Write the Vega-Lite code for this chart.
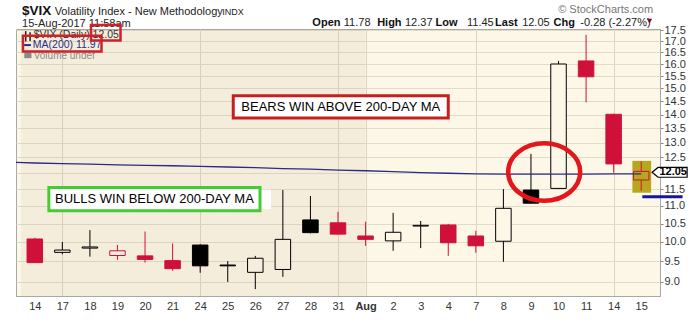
{
  "$schema": "https://vega.github.io/schema/vega-lite/v6.json",
  "autosize": {"type": "none"},
  "padding": {"left": 16, "top": 29, "right": 40, "bottom": 25},
  "width": 644,
  "height": 267,
  "background": "white",
  "config": {
    "view": {"fill": "#fdf7e7", "stroke": "#a8a8a8"},
    "axis": {"title": null, "labelOverlap": false},
    "font": "Liberation Sans"
  },
  "datasets": {
    "ohlc": [
      {"i": 0, "d": "Jul 14", "o": 10.08, "h": 10.11, "l": 9.47, "c": 9.47, "dir": "down"},
      {"i": 1, "d": "Jul 17", "o": 9.73, "h": 10.0, "l": 9.68, "c": 9.79, "dir": "up"},
      {"i": 2, "d": "Jul 18", "o": 9.84, "h": 10.32, "l": 9.62, "c": 9.87, "dir": "up"},
      {"i": 3, "d": "Jul 19", "o": 9.65, "h": 9.92, "l": 9.54, "c": 9.77, "dir": "down"},
      {"i": 4, "d": "Jul 20", "o": 9.64, "h": 10.28, "l": 9.47, "c": 9.55, "dir": "down"},
      {"i": 5, "d": "Jul 21", "o": 9.52, "h": 9.96, "l": 9.27, "c": 9.32, "dir": "down"},
      {"i": 6, "d": "Jul 24", "o": 9.92, "h": 9.94, "l": 9.22, "c": 9.39, "dir": "up"},
      {"i": 7, "d": "Jul 25", "o": 9.41, "h": 9.51, "l": 9.0, "c": 9.39, "dir": "up"},
      {"i": 8, "d": "Jul 26", "o": 9.23, "h": 9.64, "l": 8.83, "c": 9.58, "dir": "up"},
      {"i": 9, "d": "Jul 27", "o": 9.3, "h": 11.47, "l": 9.12, "c": 10.07, "dir": "up"},
      {"i": 10, "d": "Jul 28", "o": 10.6, "h": 11.29, "l": 10.23, "c": 10.25, "dir": "up"},
      {"i": 11, "d": "Jul 31", "o": 10.52, "h": 10.83, "l": 10.2, "c": 10.21, "dir": "down"},
      {"i": 12, "d": "Aug 1", "o": 10.16, "h": 10.55, "l": 9.9, "c": 10.07, "dir": "down"},
      {"i": 13, "d": "Aug 2", "o": 10.03, "h": 10.8, "l": 9.77, "c": 10.26, "dir": "up"},
      {"i": 14, "d": "Aug 3", "o": 10.43, "h": 10.57, "l": 9.84, "c": 10.45, "dir": "up"},
      {"i": 15, "d": "Aug 4", "o": 10.46, "h": 10.49, "l": 9.64, "c": 9.98, "dir": "down"},
      {"i": 16, "d": "Aug 7", "o": 10.16, "h": 10.3, "l": 9.72, "c": 9.9, "dir": "down"},
      {"i": 17, "d": "Aug 8", "o": 10.02, "h": 11.5, "l": 9.49, "c": 10.93, "dir": "up"},
      {"i": 18, "d": "Aug 9", "o": 11.47, "h": 12.62, "l": 11.07, "c": 11.08, "dir": "up"},
      {"i": 19, "d": "Aug 10", "o": 11.52, "h": 16.13, "l": 11.5, "c": 16.0, "dir": "up"},
      {"i": 20, "d": "Aug 11", "o": 16.13, "h": 17.28, "l": 14.46, "c": 15.47, "dir": "down"},
      {"i": 21, "d": "Aug 14", "o": 14.01, "h": 14.03, "l": 12.01, "c": 12.29, "dir": "down"},
      {"i": 22, "d": "Aug 15", "o": 11.78, "h": 12.37, "l": 11.45, "c": 12.05, "dir": "down"}
    ],
    "ma": [
      {"i": -1, "ma": 12.35}, {"i": 0, "ma": 12.32}, {"i": 1, "ma": 12.3}, {"i": 2, "ma": 12.28},
      {"i": 3, "ma": 12.26}, {"i": 4, "ma": 12.245}, {"i": 5, "ma": 12.23}, {"i": 6, "ma": 12.21},
      {"i": 7, "ma": 12.19}, {"i": 8, "ma": 12.17}, {"i": 9, "ma": 12.14}, {"i": 10, "ma": 12.12},
      {"i": 11, "ma": 12.09}, {"i": 12, "ma": 12.07}, {"i": 13, "ma": 12.04}, {"i": 14, "ma": 12.01},
      {"i": 15, "ma": 11.99}, {"i": 16, "ma": 11.97}, {"i": 17, "ma": 11.96}, {"i": 18, "ma": 11.96},
      {"i": 19, "ma": 11.96}, {"i": 20, "ma": 11.96}, {"i": 21, "ma": 11.97}, {"i": 22, "ma": 11.97}
    ]
  },
  "layer": [
    {
      "data": {"values": [{}]},
      "mark": {"type": "rect", "fill": "#ad9d83", "opacity": 0.1},
      "encoding": {
        "x": {"datum": -0.5, "type": "quantitative",
          "scale": {"domain": [-0.5, 22.5], "nice": false, "zero": false},
          "axis": {
            "orient": "bottom",
            "values": [0,1,2,3,4,5,6,7,8,9,10,11,12,13,14,15,16,17,18,19,20,21,22],
            "tickCount": 40,
            "labelExpr": "['14','17','18','19','20','21','24','25','26','27','28','31','Aug','2','3','4','7','8','9','10','11','14','15'][datum.value]",
            "labelFontWeight": {"condition": {"test": "datum.value == 12", "value": "bold"}, "value": "normal"},
            "labelFont": "Liberation Sans",
            "labelFontSize": 11,
            "labelColor": "#333333",
            "labelPadding": 4,
            "labelOverlap": false,
            "ticks": false,
            "domain": true,
            "domainColor": "#a8a8a8",
            "grid": true,
            "gridColor": "#ddd4c0",
            "gridOpacity": {"condition": {"test": "indexof([1,6,11,12,16,21], datum.value) >= 0", "value": 1}, "value": 0}
          }
        },
        "x2": {"datum": 12},
        "y": {"datum": 17.55, "type": "quantitative",
          "scale": {"type": "log", "domain": [8.671, 17.55], "nice": false},
          "axis": {
            "orient": "right",
            "values": [9, 9.5, 10, 10.5, 11, 11.5, 12, 12.5, 13, 13.5, 14, 14.5, 15, 15.5, 16, 16.5, 17, 17.5],
            "tickCount": 40,
            "labelExpr": "datum.value == 12 ? '' : format(datum.value, '.1f')",
            "labelFont": "Liberation Sans",
            "labelFontSize": 11,
            "labelColor": "#333333",
            "labelPadding": 1,
            "labelOverlap": false,
            "tickSize": 3,
            "tickColor": "#888888",
            "domainColor": "#a8a8a8",
            "grid": true,
            "gridColor": "#e3dbc8"
          }
        },
        "y2": {"datum": 8.671}
      }
    },
    {
      "data": {"values": [{}]},
      "mark": {"type": "rect", "fill": "#b8a61e"},
      "encoding": {
        "x": {"datum": 21.68, "type": "quantitative"},
        "x2": {"datum": 22.36},
        "y": {"datum": 12.39, "type": "quantitative"},
        "y2": {"datum": 11.39}
      }
    },
    {
      "data": {"name": "ohlc"},
      "mark": {"type": "rule", "strokeWidth": 1},
      "encoding": {
        "x": {"field": "i", "type": "quantitative"},
        "y": {"field": "l", "type": "quantitative"},
        "y2": {"field": "h"},
        "stroke": {"condition": {"test": "datum.dir === 'down'", "value": "#cf1139"}, "value": "#000000"}
      }
    },
    {
      "data": {"name": "ohlc"},
      "mark": {"type": "bar", "width": 15.5, "strokeWidth": 1},
      "encoding": {
        "x": {"field": "i", "type": "quantitative"},
        "y": {"field": "o", "type": "quantitative"},
        "y2": {"field": "c"},
        "fill": {"condition": [
          {"test": "datum.c < datum.o && datum.dir === 'down'", "value": "#cf1139"},
          {"test": "datum.c < datum.o", "value": "#000000"},
          {"test": "datum.i < 12", "value": "#f5eedd"},
          {"test": "datum.i == 22", "value": "#b8a61e"}
        ], "value": "#fdf7e7"},
        "stroke": {"condition": {"test": "datum.dir === 'down'", "value": "#cf1139"}, "value": "#000000"}
      }
    },
    {
      "data": {"name": "ma"},
      "mark": {"type": "line", "clip": true, "stroke": "#2b2b85", "strokeWidth": 1.3},
      "encoding": {
        "x": {"field": "i", "type": "quantitative"},
        "y": {"field": "ma", "type": "quantitative"}
      }
    },
    {
      "data": {"values": [{}]},
      "mark": {"type": "rect", "fill": "#ffffff"},
      "encoding": {
        "x": {"datum": 0.51, "type": "quantitative"},
        "x2": {"datum": 8.57},
        "y": {"datum": 11.48, "type": "quantitative"},
        "y2": {"datum": 10.91}
      }
    },
    {
      "data": {"values": [{}]},
      "mark": {"type": "rect", "fill": "#ffffff", "stroke": "#44cc33", "strokeWidth": 3},
      "encoding": {
        "x": {"datum": 0.51, "type": "quantitative"},
        "x2": {"datum": 8.17},
        "y": {"datum": 11.55, "type": "quantitative"},
        "y2": {"datum": 10.86}
      }
    },
    {
      "data": {"values": [{}]},
      "mark": {"type": "text", "align": "center", "baseline": "middle", "font": "Liberation Sans", "fontSize": 13, "color": "#000000"},
      "encoding": {
        "x": {"datum": 4.34, "type": "quantitative"},
        "y": {"datum": 11.2, "type": "quantitative"},
        "text": {"value": "BULLS WIN BELOW 200-DAY MA"}
      }
    },
    {
      "data": {"values": [{}]},
      "mark": {"type": "rect", "fill": "#ffffff", "stroke": "#c42020", "strokeWidth": 3},
      "encoding": {
        "x": {"datum": 7.2, "type": "quantitative"},
        "x2": {"datum": 15.0},
        "y": {"datum": 14.71, "type": "quantitative"},
        "y2": {"datum": 13.87}
      }
    },
    {
      "data": {"values": [{}]},
      "mark": {"type": "text", "align": "center", "baseline": "middle", "font": "Liberation Sans", "fontSize": 13, "color": "#000000"},
      "encoding": {
        "x": {"datum": 11.1, "type": "quantitative"},
        "y": {"datum": 14.28, "type": "quantitative"},
        "text": {"value": "BEARS WIN ABOVE 200-DAY MA"}
      }
    },
    {
      "data": {"values": [{}]},
      "mark": {"type": "point", "shape": "M -1 0 C -1 -0.4418 -0.5523 -0.8 0 -0.8 C 0.5523 -0.8 1 -0.4418 1 0 C 1 0.4418 0.5523 0.8 0 0.8 C -0.5523 0.8 -1 0.4418 -1 0 Z", "size": 5184, "filled": false, "stroke": "#e3161b", "strokeWidth": 4.5, "opacity": 1},
      "encoding": {
        "x": {"datum": 18.48, "type": "quantitative"},
        "y": {"datum": 12.03, "type": "quantitative"}
      }
    },
    {
      "data": {"values": [{}]},
      "mark": {"type": "rule", "stroke": "#1515a0", "strokeWidth": 3, "clip": false},
      "encoding": {
        "x": {"datum": 22.04, "type": "quantitative"},
        "x2": {"datum": 23.5},
        "y": {"datum": 11.27, "type": "quantitative"}
      }
    },
    {
      "data": {"values": [{}]},
      "mark": {"type": "point", "shape": "M -1 0 L -0.66 -0.28 L 1 -0.28 L 1 0.28 L -0.66 0.28 Z", "size": 1225, "filled": true, "fill": "#ffffff", "stroke": "#000000", "strokeWidth": 1.2, "opacity": 1},
      "encoding": {
        "x": {"datum": 23.03, "type": "quantitative"},
        "y": {"datum": 12.02, "type": "quantitative"}
      }
    },
    {
      "data": {"values": [{}]},
      "mark": {"type": "text", "align": "center", "baseline": "middle", "font": "Liberation Sans", "fontSize": 11, "fontWeight": "bold", "color": "#000000"},
      "encoding": {
        "x": {"datum": 23.16, "type": "quantitative"},
        "y": {"datum": 12.02, "type": "quantitative"},
        "text": {"value": "12.05"}
      }
    },
    {
      "data": {"values": [{}]},
      "mark": {"type": "text", "align": "left", "baseline": "alphabetic", "font": "Liberation Sans", "fontSize": 13.5, "fontWeight": "bold", "color": "#111111"},
      "encoding": {
        "x": {"datum": -0.46, "type": "quantitative"},
        "y": {"datum": 18.21, "type": "quantitative"},
        "text": {"value": "$VIX"}
      }
    },
    {
      "data": {"values": [{}]},
      "mark": {"type": "text", "align": "left", "baseline": "alphabetic", "font": "Liberation Sans", "fontSize": 11, "color": "#222222"},
      "encoding": {
        "x": {"datum": 0.72, "type": "quantitative"},
        "y": {"datum": 18.21, "type": "quantitative"},
        "text": {"value": "Volatility Index - New Methodology"}
      }
    },
    {
      "data": {"values": [{}]},
      "mark": {"type": "text", "align": "left", "baseline": "alphabetic", "font": "Liberation Sans", "fontSize": 9, "color": "#222222"},
      "encoding": {
        "x": {"datum": 6.8, "type": "quantitative"},
        "y": {"datum": 18.21, "type": "quantitative"},
        "text": {"value": "INDX"}
      }
    },
    {
      "data": {"values": [{}]},
      "mark": {"type": "text", "align": "left", "baseline": "alphabetic", "font": "Liberation Sans", "fontSize": 11, "color": "#222222"},
      "encoding": {
        "x": {"datum": -0.46, "type": "quantitative"},
        "y": {"datum": 17.64, "type": "quantitative"},
        "text": {"value": "15-Aug-2017 11:58am"}
      }
    },
    {
      "data": {"values": [{}]},
      "mark": {"type": "text", "align": "right", "baseline": "alphabetic", "font": "Liberation Sans", "fontSize": 11, "color": "#777777"},
      "encoding": {
        "x": {"datum": 22.43, "type": "quantitative"},
        "y": {"datum": 18.31, "type": "quantitative"},
        "text": {"value": "© StockCharts.com"}
      }
    },
    {"data": {"values": [{}]}, "mark": {"type": "text", "align": "left", "baseline": "alphabetic", "font": "Liberation Sans", "fontSize": 11, "fontWeight": "bold", "color": "#111111"},
      "encoding": {"x": {"datum": 10.07, "type": "quantitative"}, "y": {"datum": 17.69, "type": "quantitative"}, "text": {"value": "Open"}}},
    {"data": {"values": [{}]}, "mark": {"type": "text", "align": "left", "baseline": "alphabetic", "font": "Liberation Sans", "fontSize": 11, "color": "#222222"},
      "encoding": {"x": {"datum": 11.21, "type": "quantitative"}, "y": {"datum": 17.69, "type": "quantitative"}, "text": {"value": "11.78"}}},
    {"data": {"values": [{}]}, "mark": {"type": "text", "align": "left", "baseline": "alphabetic", "font": "Liberation Sans", "fontSize": 11, "fontWeight": "bold", "color": "#111111"},
      "encoding": {"x": {"datum": 12.42, "type": "quantitative"}, "y": {"datum": 17.69, "type": "quantitative"}, "text": {"value": "High"}}},
    {"data": {"values": [{}]}, "mark": {"type": "text", "align": "left", "baseline": "alphabetic", "font": "Liberation Sans", "fontSize": 11, "color": "#222222"},
      "encoding": {"x": {"datum": 13.43, "type": "quantitative"}, "y": {"datum": 17.69, "type": "quantitative"}, "text": {"value": "12.37"}}},
    {"data": {"values": [{}]}, "mark": {"type": "text", "align": "left", "baseline": "alphabetic", "font": "Liberation Sans", "fontSize": 11, "fontWeight": "bold", "color": "#111111"},
      "encoding": {"x": {"datum": 14.54, "type": "quantitative"}, "y": {"datum": 17.69, "type": "quantitative"}, "text": {"value": "Low"}}},
    {"data": {"values": [{}]}, "mark": {"type": "text", "align": "left", "baseline": "alphabetic", "font": "Liberation Sans", "fontSize": 11, "color": "#222222"},
      "encoding": {"x": {"datum": 15.68, "type": "quantitative"}, "y": {"datum": 17.69, "type": "quantitative"}, "text": {"value": "11.45"}}},
    {"data": {"values": [{}]}, "mark": {"type": "text", "align": "left", "baseline": "alphabetic", "font": "Liberation Sans", "fontSize": 11, "fontWeight": "bold", "color": "#111111"},
      "encoding": {"x": {"datum": 16.7, "type": "quantitative"}, "y": {"datum": 17.69, "type": "quantitative"}, "text": {"value": "Last"}}},
    {"data": {"values": [{}]}, "mark": {"type": "text", "align": "left", "baseline": "alphabetic", "font": "Liberation Sans", "fontSize": 11, "color": "#222222"},
      "encoding": {"x": {"datum": 17.68, "type": "quantitative"}, "y": {"datum": 17.69, "type": "quantitative"}, "text": {"value": "12.05"}}},
    {"data": {"values": [{}]}, "mark": {"type": "text", "align": "left", "baseline": "alphabetic", "font": "Liberation Sans", "fontSize": 11, "fontWeight": "bold", "color": "#111111"},
      "encoding": {"x": {"datum": 18.82, "type": "quantitative"}, "y": {"datum": 17.69, "type": "quantitative"}, "text": {"value": "Chg"}}},
    {"data": {"values": [{}]}, "mark": {"type": "text", "align": "left", "baseline": "alphabetic", "font": "Liberation Sans", "fontSize": 11, "color": "#222222"},
      "encoding": {"x": {"datum": 19.79, "type": "quantitative"}, "y": {"datum": 17.69, "type": "quantitative"}, "text": {"value": "-0.28 (-2.27%)"}}},
    {"data": {"values": [{}]}, "mark": {"type": "point", "shape": "triangle-down", "size": 30, "filled": true, "color": "#7a1030", "opacity": 1},
      "encoding": {"x": {"datum": 22.3, "type": "quantitative"}, "y": {"datum": 17.92, "type": "quantitative"}}},
    {"data": {"values": [{}]}, "mark": {"type": "text", "align": "left", "baseline": "alphabetic", "font": "Liberation Sans", "fontSize": 10.5, "color": "#333333"},
      "encoding": {"x": {"datum": -0.04, "type": "quantitative"}, "y": {"datum": 17.14, "type": "quantitative"}, "text": {"value": "$VIX (Daily) 12.05"}}},
    {"data": {"values": [{}]}, "mark": {"type": "text", "align": "left", "baseline": "alphabetic", "font": "Liberation Sans", "fontSize": 10.5, "color": "#2b2b8c"},
      "encoding": {"x": {"datum": -0.07, "type": "quantitative"}, "y": {"datum": 16.67, "type": "quantitative"}, "text": {"value": "MA(200) 11.97"}}},
    {"data": {"values": [{}]}, "mark": {"type": "text", "align": "left", "baseline": "alphabetic", "font": "Liberation Sans", "fontSize": 10, "color": "#8a8a8a"},
      "encoding": {"x": {"datum": -0.04, "type": "quantitative"}, "y": {"datum": 16.22, "type": "quantitative"}, "text": {"value": "Volume undef"}}},
    {"data": {"values": [{}]}, "mark": {"type": "rule", "stroke": "#2b2b8c", "strokeWidth": 2},
      "encoding": {"x": {"datum": -0.39, "type": "quantitative"}, "x2": {"datum": -0.14}, "y": {"datum": 16.82, "type": "quantitative"}}},
    {"data": {"values": [{}]}, "mark": {"type": "rule", "stroke": "#222222", "strokeWidth": 1.5},
      "encoding": {"x": {"datum": -0.33, "type": "quantitative"}, "y": {"datum": 17.45, "type": "quantitative"}, "y2": {"datum": 16.98}}},
    {"data": {"values": [{}]}, "mark": {"type": "rule", "stroke": "#222222", "strokeWidth": 1.5},
      "encoding": {"x": {"datum": -0.17, "type": "quantitative"}, "y": {"datum": 17.4, "type": "quantitative"}, "y2": {"datum": 17.0}}},
    {"data": {"values": [{}]}, "mark": {"type": "rect", "fill": "#8a8a8a"},
      "encoding": {"x": {"datum": -0.38, "type": "quantitative"}, "x2": {"datum": -0.12}, "y": {"datum": 16.5, "type": "quantitative"}, "y2": {"datum": 16.25}}},
    {"data": {"values": [{}]}, "mark": {"type": "rect", "filled": false, "fill": null, "stroke": "#d0202a", "strokeWidth": 2.5},
      "encoding": {"x": {"datum": 2.04, "type": "quantitative"}, "x2": {"datum": 3.11}, "y": {"datum": 17.74, "type": "quantitative"}, "y2": {"datum": 17.02}}},
    {"data": {"values": [{}]}, "mark": {"type": "rect", "filled": false, "fill": null, "stroke": "#d0202a", "strokeWidth": 2.5},
      "encoding": {"x": {"datum": -0.43, "type": "quantitative"}, "x2": {"datum": 2.42}, "y": {"datum": 17.24, "type": "quantitative"}, "y2": {"datum": 16.54}}}
  ]
}
